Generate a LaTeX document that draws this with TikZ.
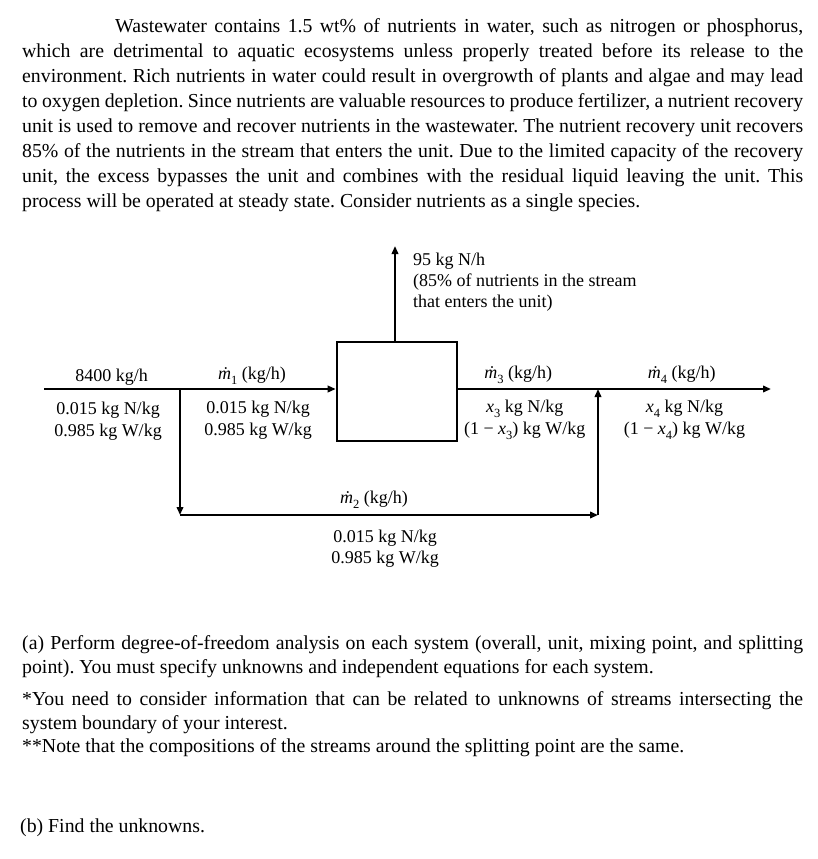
\documentclass[tikz,border=0pt]{standalone}
\usepackage{fontspec}
\setmainfont{Liberation Serif}
\usetikzlibrary{arrows.meta}
\frenchspacing
\newcommand{\lsub}[1]{\raisebox{-0.28em}{\fontsize{12.5}{12.5}\selectfont #1}}
\newcommand{\mflow}[1]{\textit{\.m}\lsub{#1}}
\newcommand{\xv}[1]{\textit{x}\lsub{#1}}
\newcommand{\jl}[2]{\makebox[#1][s]{#2}}
\begin{document}
\begin{tikzpicture}[x=1pt,y=-1pt,
  body/.style={anchor=base west, inner sep=0pt, font=\fontsize{19.8}{24}\selectfont},
  lbl/.style={anchor=base, inner sep=0pt, font=\fontsize{18}{21}\selectfont},
  lblw/.style={lbl, anchor=base west},
  pipe/.style={line width=2.6pt},
  flow/.style={line width=2.6pt, -{Triangle[length=8pt,width=6.5pt]}},
]
\useasboundingbox (0,0) rectangle (818,859);

% ---------- problem statement ----------
\node[body] (p1) at (115,32.7) {\jl{688pt}{Wastewater contains 1.5 wt\% of nutrients in water, such as nitrogen or phosphorus,}};
\node[body] (p2) at (22,57.6) {\jl{781pt}{which are detrimental to aquatic ecosystems unless properly treated before its release to the}};
\node[body] (p3) at (22,82.5) {\jl{781pt}{environment. Rich nutrients in water could result in overgrowth of plants and algae and may lead}};
\node[body] (p4) at (22,107.4) {\jl{781pt}{to oxygen depletion. Since nutrients are valuable resources to produce fertilizer, a nutrient recovery}};
\node[body] (p5) at (22,132.3) {\jl{781pt}{unit is used to remove and recover nutrients in the wastewater. The nutrient recovery unit recovers}};
\node[body] (p6) at (22,157.2) {\jl{781pt}{85\% of the nutrients in the stream that enters the unit. Due to the limited capacity of the recovery}};
\node[body] (p7) at (22,182.1) {\jl{781pt}{unit, the excess bypasses the unit and combines with the residual liquid leaving the unit. This}};
\node[body] (p8) at (22,207) {process will be operated at steady state. Consider nutrients as a single species.};

% ---------- flowsheet ----------
\node[draw, line width=2.6pt, minimum width=120pt, minimum height=99pt, inner sep=0pt] (unit) at (397,391.5) {};
\coordinate (feed) at (44,389);
\coordinate (split) at (180,389);
\coordinate (bl) at (180,515);
\coordinate (br) at (598,515);
\coordinate (mix) at (598,389);
\coordinate (out) at (771,389);
\coordinate (top) at (395,246);

\draw[pipe] (feed) -- (split);
\draw[flow] (split) -- (split -| unit.west);
\draw[flow] (unit.north -| top) -- (top);
\draw[flow] (split) -- (bl);
\draw[flow] (bl) -- (br);
\draw[flow] (br) -- (mix);
\draw[flow] (unit.east |- mix) -- (out);

% ---------- stream labels ----------
\node[lbl] (f) at (111.5,381.5) {8400 kg/h};
\node[lbl] (fN) at (108,414.5) {0.015 kg N/kg};
\node[lbl] (fW) at (108,436) {0.985 kg W/kg};
\node[lbl] (m1) at (252,379.5) {\mflow{1} (kg/h)};
\node[lbl] (m1N) at (258,413.5) {0.015 kg N/kg};
\node[lbl] (m1W) at (258,435) {0.985 kg W/kg};
\node[lblw] (r1) at (413,265) {95 kg N/h};
\node[lblw] (r2) at (413,286.7) {(85\% of nutrients in the stream};
\node[lblw] (r3) at (413,307.5) {that enters the unit)};
\node[lbl] (m3) at (518.3,378.5) {\mflow{3} (kg/h)};
\node[lbl] (x3N) at (524.7,412.7) {\xv{3} kg N/kg};
\node[lbl] (x3W) at (524.7,434) {(1 − \xv{3}) kg W/kg};
\node[lbl] (m4) at (681.7,378.5) {\mflow{4} (kg/h)};
\node[lbl] (x4N) at (684.5,412.7) {\xv{4} kg N/kg};
\node[lbl] (x4W) at (684.5,434) {(1 − \xv{4}) kg W/kg};
\node[lbl] (m2) at (374,503) {\mflow{2} (kg/h)};
\node[lbl] (m2N) at (385,542.7) {0.015 kg N/kg};
\node[lbl] (m2W) at (385,563.3) {0.985 kg W/kg};

% ---------- questions ----------
\node[body] (qa1) at (22,649) {\jl{781pt}{(a) Perform degree-of-freedom analysis on each system (overall, unit, mixing point, and splitting}};
\node[body] (qa2) at (22,673) {point). You must specify unknowns and independent equations for each system.};
\node[body] (n1) at (22,705) {\jl{781pt}{*You need to consider information that can be related to unknowns of streams intersecting the}};
\node[body] (n2) at (22,729.5) {system boundary of your interest.};
\node[body] (n3) at (22,752) {**Note that the compositions of the streams around the splitting point are the same.};
\node[body] (qb) at (20,832.7) {(b) Find the unknowns.};
\end{tikzpicture}
\end{document}
